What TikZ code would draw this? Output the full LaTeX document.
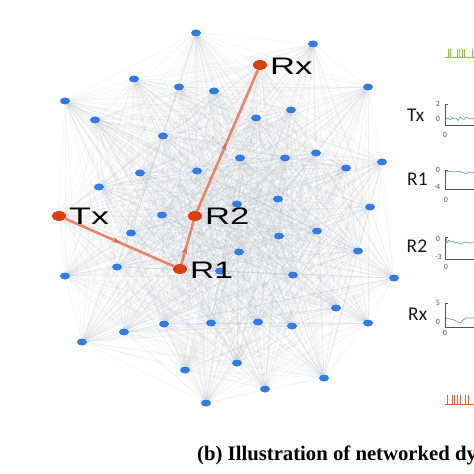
\documentclass[tikz,border=0pt]{standalone}
\usepackage{fontspec}
\setmainfont{Liberation Serif}
\newfontfamily\arialf{Liberation Sans}
\newfontfamily\carl{Carlito}
\usetikzlibrary{shapes.geometric,arrows.meta,decorations.markings,backgrounds}
\definecolor{nblue}{HTML}{2F7BEA}
\definecolor{nred}{HTML}{E03A10}
\definecolor{pathc}{HTML}{EC8468}
\definecolor{edgec}{HTML}{A8B2BC}
\definecolor{plotc}{HTML}{5B8FC9}
\definecolor{axisc}{HTML}{555555}
\definecolor{spkg}{HTML}{8CC63F}
\definecolor{spkr}{HTML}{E0603A}
\begin{document}
\begin{tikzpicture}[x=1bp,y=-1bp,
  bnode/.style={ellipse,fill=nblue,minimum width=10bp,minimum height=7bp,inner sep=0pt},
  rnode/.style={ellipse,fill=nred,minimum width=14bp,minimum height=10bp,inner sep=0pt},
  edge/.style={draw=edgec,line width=0.7bp,opacity=0.13},
  route/.style={draw=pathc,line width=2.6bp,postaction=decorate,
    decoration={markings,mark=at position #1 with {\arrow[color=pathc!85!black]{Stealth[length=7bp,width=5.5bp]}}}},
  route/.default=0.5,
  biglbl/.style={font=\arialf\fontsize{24}{24}\selectfont,inner sep=0pt,anchor=base west},
  plbl/.style={font=\carl\fontsize{19.5}{19.5}\selectfont,inner sep=0pt,anchor=base west,text=black!90},
  tick/.style={font=\carl\fontsize{8}{8}\selectfont,inner sep=0pt,text=axisc},
  axis/.style={draw=axisc,line width=0.6bp},
  sig/.style={draw=plotc,line width=0.6bp},
  spikeg/.style={draw=spkg,line width=0.8bp},
  spiker/.style={draw=spkr,line width=0.8bp},
  caption/.style={font=\bfseries\fontsize{20.8}{20.8}\selectfont,inner sep=0pt,anchor=base west}]
\useasboundingbox (0,0) rectangle (474,474);
\clip (0,0) rectangle (474,474);
% blue nodes
\foreach \n/\x/\y in {1/196/33,2/134/79,3/179/87,4/214/91,5/65/101,6/95/120,7/163/136,8/140/173,
  9/197/171,10/99/187,11/162/215,12/131/233,13/237/204,14/240/158,15/313/44,16/368/87,
  17/291/110,18/256/118,19/285/158,20/316/153,21/346/168,22/382/162,23/278/199,24/370/207,
  25/317/231,26/279/236,27/65/276,28/117/267,29/220/271,30/82/342,31/124/332,32/164/324,
  33/211/323,34/185/370,35/206/403,36/237/363,37/239/252,38/358/251,39/293/275,40/394/278,
  41/336/308,42/258/322,43/292/326,44/368/323,45/265/389,46/324/378}
  \node[bnode] (n\n) at (\x,\y) {};
% red nodes
\node[rnode] (Tx) at (59,216) {};
\node[rnode] (R1) at (180,269) {};
\node[rnode] (R2) at (195,216) {};
\node[rnode] (Rx) at (260,65) {};
\def\allnodes{n1,n2,n3,n4,n5,n6,n7,n8,n9,n10,n11,n12,n13,n14,n15,n16,n17,n18,n19,n20,n21,n22,n23,n24,n25,n26,n27,n28,n29,n30,n31,n32,n33,n34,n35,n36,n37,n38,n39,n40,n41,n42,n43,n44,n45,n46,Tx,R1,R2,Rx}
\begin{pgfonlayer}{background}
\foreach \a [count=\i] in \allnodes {
  \foreach \b [count=\j] in \allnodes {
    \ifnum\j>\i \draw[edge] (\a) -- (\b); \fi
  }
}
\end{pgfonlayer}
% route
\draw[route=0.5] (Tx) -- (R1);
\draw[route=0.4] (R1) -- (R2);
\draw[route=0.48] (R2) -- (Rx);
% labels
\node[biglbl] (lTx) at (69,224.5) {\scalebox{1.5}[1]{Tx}};
\node[biglbl] (lR1) at (190,278.5) {\scalebox{1.4}[1]{R1}};
\node[biglbl] (lR2) at (205,224.5) {\scalebox{1.45}[1]{R2}};
\node[biglbl] (lRx) at (270,74.5) {\scalebox{1.45}[1]{Rx}};
% spikes
\draw[spikeg] (445,57) -- (474,57);
\foreach \x in {448,450,457,459.5,462,464.5,472} \draw[spikeg] (\x,49) -- (\x,57);
\draw[spiker] (445,404) -- (474,404);
\foreach \x in {447,452,454.5,457,460,465,468} \draw[spiker] (\x,395) -- (\x,404);
% Tx plot
\node[plbl] (pTx) at (407,122) {Tx};
\draw[axis] (448,104) -- (445,104) -- (445,125) -- (474,125);
\draw[sig] plot coordinates {(446,119) (448,118) (450,120) (452,117.5) (454,119) (456,118) (458,120.5) (460,117) (462,118.5) (464,119.5) (466,117) (468,118) (470,119) (472,118) (474,119)};
\node[tick] (tTx2) at (438,104) {2};
\node[tick] (tTx0) at (438,119) {0};
\node[tick] (tTxb) at (445,135) {0};
% R1 plot
\node[plbl] (pR1) at (407,186) {R1};
\draw[axis] (448,170) -- (445,170) -- (445,189) -- (474,189);
\draw[sig] plot coordinates {(446,172) (450,171.5) (454,172) (458,171) (462,172.5) (466,173.5) (470,172) (474,172.5)};
\node[tick] (tR10) at (438,170) {0};
\node[tick] (tR14) at (437,187) {-4};
\node[tick] (tR1b) at (446,200) {0};
% R2 plot
\node[plbl] (pR2) at (406.5,252) {R2};
\draw[axis] (448,237) -- (445,237) -- (445,259) -- (474,259);
\draw[sig] plot coordinates {(446,237) (447,243) (449,240) (451,242) (453,241) (455,243) (457,242) (460,244) (463,243) (466,242) (470,243) (474,242)};
\node[tick] (tR20) at (438,239) {0};
\node[tick] (tR23) at (438.5,257) {-3};
\node[tick] (tR2b) at (446,267) {0};
% Rx plot
\node[plbl] (pRx) at (408,320) {Rx};
\draw[axis] (448,303) -- (445,303) -- (445,327) -- (474,327);
\draw[sig] plot coordinates {(446,318) (450,319) (454,320) (458,322) (461,322.5) (463,320) (466,318) (470,318) (474,318)};
\node[tick] (tRx5) at (438,303) {5};
\node[tick] (tRx0) at (438,322) {0};
\node[tick] (tRxb) at (445,333) {0};
% caption
\node[caption] (cap) at (197,460) {(b) Illustration of networked dy};
\end{tikzpicture}
\end{document}
